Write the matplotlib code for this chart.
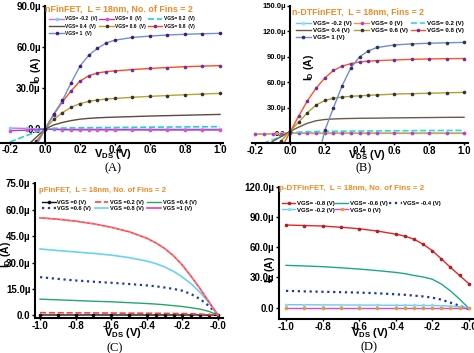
import numpy as np
import matplotlib
matplotlib.use('Agg')
import matplotlib.pyplot as plt

plt.rcParams['font.family'] = ['Liberation Sans', 'DejaVu Sans']
plt.rcParams['font.weight'] = 'bold'
plt.rcParams['mathtext.fontset'] = 'custom'
plt.rcParams['mathtext.bf'] = 'Liberation Sans:bold'
plt.rcParams['mathtext.rm'] = 'Liberation Sans:bold'

W, H = 474, 353
ORANGE = '#f08a24'

# ---- (A) nFinFET ----
xa = [-0.2, -0.1, -0.05, 0.0, 0.05, 0.1, 0.15, 0.2, 0.25, 0.3, 0.35, 0.4, 0.5, 0.6, 0.7, 0.8, 0.9, 1.0]
a_vgs1 = [-60, -30, -12, 0, 11, 21, 34, 46, 54, 59, 63, 65, 67, 68, 68.8, 69.3, 69.7, 70]
a_vgs08 = [-50, -25, -11, 0, 10.5, 20, 28, 35, 39, 41, 42, 42.5, 43.5, 44.3, 45, 45.6, 46, 46.4]
a_vgs06 = [-35, -18, -9, 0, 7, 12, 16, 18.6, 20.2, 21.3, 21.9, 22.4, 23.2, 23.9, 24.5, 25.1, 25.6, 26.1]
a_vgs04 = [-20, -12, -6, 0, 3, 4.8, 6.2, 7.2, 7.8, 8.2, 8.5, 8.7, 9.1, 9.5, 9.8, 10.1, 10.4, 10.7]
a_vgs02 = [-9.5, -4.5, -2.2, 0, 0.5, 0.7, 0.8, 0.9, 1.0, 1.05, 1.1, 1.15, 1.25, 1.35, 1.45, 1.55, 1.65, 1.75]
a_vgs0 = [-1.2, -0.8, -0.5, 0, -0.3, -0.5, -0.6, -0.6, -0.6, -0.6, -0.6, -0.65, -0.65, -0.7, -0.7, -0.7, -0.7, -0.7]
a_vgsm02 = [0.7, 0.4, 0.2, 0, -0.1, -0.15, -0.2, -0.2, -0.2, -0.2, -0.2, -0.2, -0.2, -0.2, -0.2, -0.2, -0.2, -0.2]

# ---- (B) n-DTFinFET ----
xb = [-0.2, -0.15, -0.1, -0.05, 0.0, 0.05, 0.1, 0.15, 0.2, 0.25, 0.3, 0.35, 0.4, 0.45, 0.5, 0.6, 0.7, 0.8, 0.9, 1.0]
b_vgs1 = [None] * 7 + [-40, 3, 30, 56, 77, 90, 97, 101, 104, 105.3, 106, 106.6, 107]
b_vgs08 = [-90, -65, -40, -18, 1, 20, 38, 53, 65, 74, 79, 82, 84, 84.8, 85.5, 86.3, 87, 87.5, 87.8, 88]
b_vgs06 = [-50, -35, -22, -9, 2, 13, 24, 33, 38.5, 41, 42.5, 43.3, 44, 44.5, 45, 46, 46.5, 47, 47.5, 48]
b_vgs04 = [-25, -17, -10, -4, 2, 7, 11.5, 14.5, 16, 16.6, 17, 17.2, 17.4, 17.5, 17.6, 17.9, 18.1, 18.3, 18.5, 18.6]
b_vgs02 = [-17, -12, -8, -4, 0, 1, 1.5, 1.8, 2, 2.1, 2.2, 2.3, 2.4, 2.45, 2.5, 2.7, 2.8, 2.9, 3.0, 3.1]
b_vgs0 = [-1.5, -1.3, -1.0, -0.6, 0, -0.3, -0.5, -0.5, -0.5, -0.5, -0.5, -0.5, -0.5, -0.5, -0.5, -0.5, -0.5, -0.5, -0.5, -0.5]
b_vgsm02 = [-1.0, -0.9, -0.7, -0.4, 0, 0.1, 0.1, 0.1, 0.1, 0.1, 0.1, 0.1, 0.1, 0.1, 0.1, 0.1, 0.1, 0.1, 0.1, 0.1]

# ---- (C) pFinFET ----
xc = [-1.0, -0.9, -0.8, -0.7, -0.6, -0.5, -0.4, -0.35, -0.3, -0.25, -0.2, -0.15, -0.1, -0.05, 0.0]
c_vgs1 = [55.4, 54.6, 53.5, 52, 50, 47.5, 43.8, 41.2, 38, 33.8, 28.5, 22, 15, 7.5, 0]
c_vgs08 = [37.7, 36.8, 36, 35.2, 34.2, 32.8, 30.8, 29.4, 27.5, 25, 21.7, 17.8, 13, 7, 0]
c_vgs06 = [21.7, 20.7, 19.8, 19.1, 18.5, 17.8, 17, 16.5, 15.8, 15, 14, 12, 9.2, 5.2, 0]
c_vgs04 = [9.2, 8.8, 8.4, 8.0, 7.7, 7.2, 6.7, 6.4, 6.0, 5.5, 5.0, 4.3, 3.5, 2.2, 0]
c_vgs02 = [1.5, 1.45, 1.4, 1.35, 1.3, 1.25, 1.2, 1.15, 1.1, 1.05, 1.0, 0.9, 0.7, 0.4, 0]
c_vgs0 = [0.2, 0.2, 0.2, 0.2, 0.2, 0.2, 0.2, 0.2, 0.2, 0.2, 0.2, 0.2, 0.2, 0.1, 0]

# ---- (D) p-DTFinFET ----
xd = [-1.0, -0.9, -0.8, -0.7, -0.6, -0.5, -0.4, -0.35, -0.3, -0.25, -0.2, -0.15, -0.1, -0.05, 0.0]
d_vgsm08 = [82, 81.5, 81, 79.8, 78.3, 76, 73, 71, 68, 63, 56.7, 48.5, 40, 32, 24]
d_vgsm06 = [42, 41.4, 40.7, 39.6, 38.3, 36.8, 35, 33.8, 32, 30.5, 28.3, 23.5, 16.7, 8.5, -0.5]
d_vgsm04 = [16.7, 16.2, 15.8, 15.4, 15, 14.3, 13.3, 12.8, 12, 11.2, 10, 8, 5, 2, -1.5]
d_vgsm02 = [3, 2.9, 2.8, 2.7, 2.6, 2.5, 2.4, 2.35, 2.3, 2.25, 2.2, 2.0, 1.6, 0.9, 0]
d_vgs0 = [-0.7, -0.7, -0.7, -0.7, -0.7, -0.7, -0.7, -0.7, -0.7, -0.7, -0.7, -0.7, -0.7, -0.7, -0.7]


def px_axes(fig, left, top, right, bottom):
    return fig.add_axes([left / W, 1 - bottom / H, (right - left) / W, (bottom - top) / H])


def style_axes(ax, xlim, ylim, xticks, yticks, ylabels, spine_at_zero, ysize):
    ax.set_xlim(*xlim)
    ax.set_ylim(*ylim)
    for s in ('top', 'right'):
        ax.spines[s].set_visible(False)
    ax.spines['left'].set_linewidth(1.5)
    ax.spines['bottom'].set_linewidth(1.5)
    if spine_at_zero:
        ax.spines['left'].set_position(('data', 0))
    ax.set_xticks(xticks)
    ax.set_xticklabels(['%.1f' % t for t in xticks], fontsize=7, fontweight='bold')
    ax.set_yticks(yticks)
    ax.set_yticklabels(ylabels, fontsize=ysize, fontweight='bold')
    ax.tick_params(axis='both', length=2, width=1, pad=1)
    ax.tick_params(axis='x', length=1.5, pad=0.5)
    ax.patch.set_alpha(0)


def curve(ax, x, y, color, label, ls='-', mk=None, mc=None, lw=1.0):
    x = np.array(x, dtype=float)
    y = np.array([np.nan if v is None else v for v in y], dtype=float)
    kw = {}
    if mk:
        kw = dict(marker=mk, markersize=1.6, markerfacecolor=mc, markeredgecolor=mc)
    ax.plot(x, y, color=color, linestyle=ls, lw=lw, label=label, **kw)


def legend(ax, x, y, fs, hl, cs, ls):
    # matplotlib fills legend columns first; reorder so entries read row by row
    handles, labs = ax.get_legend_handles_labels()
    n = len(handles)
    rows = (n + 2) // 3
    order = []
    for c in range(3):
        for r in range(rows):
            i = r * 3 + c
            if i < n:
                order.append(i)
    ax.legend([handles[i] for i in order], [labs[i] for i in order],
              loc='upper left', bbox_to_anchor=(x / W, 1 - y / H),
              bbox_transform=ax.figure.transFigure, ncol=3, frameon=False,
              handlelength=hl, handletextpad=0.3,
              columnspacing=cs, labelspacing=ls, borderpad=0,
              prop={'weight': 'bold', 'size': fs})


def labels(fig, yl, xl, cap):
    fig.text(yl[0] / W, 1 - yl[1] / H, r'$\mathbf{I_D}$ (A)', rotation=90,
             ha='center', va='center', fontsize=7.5, fontweight='bold')
    fig.text(xl[0] / W, 1 - xl[1] / H, r'$\mathbf{V_{DS}}$ (V)',
             ha='center', va='center', fontsize=8, fontweight='bold')
    fig.text(cap[0] / W, 1 - cap[1] / H, cap[2], ha='center', va='center',
             fontsize=9, family='Liberation Serif', fontweight='normal')


fig = plt.figure(figsize=(W / 100, H / 100), dpi=100)

# (A)
ax = px_axes(fig, 1.25, 6, 223.5, 142.7)
style_axes(ax, (-0.25, 1.02), (-10, 90), np.round(np.arange(-0.2, 1.01, 0.2), 1),
           [0, 30, 60, 90], ['0.0', '30.0µ', '60.0µ', '90.0µ'], True, 7)
curve(ax, xa, a_vgsm02, '#c870f0', 'VGS= -0.2  (V)', mk='o', mc='#66d8ff')
curve(ax, xa, a_vgs0, '#a040c0', 'VGS= 0  (V)', mk='o', mc='#ff40d0')
curve(ax, xa, a_vgs02, '#22cde0', 'VGS= 0.2  (V)', ls='--', lw=1.2)
curve(ax, xa, a_vgs04, '#5c4a3a', 'VGS= 0.4  (V)')
curve(ax, xa, a_vgs06, '#b8a428', 'VGS= 0.6  (V)', mk='o', mc='#333333')
curve(ax, xa, a_vgs08, '#ff4d1a', 'VGS= 0.8  (V)', mk='o', mc='#7a2a9a')
curve(ax, xa, a_vgs1, '#6a93d0', 'VGS= 1  (V)', mk='o', mc='#4a1a7a')
legend(ax, 47, 14, fs=3.5, hl=3.0, cs=0.3, ls=0.45)
fig.text(45 / W, 1 - 9 / H, 'nFinFET,  L = 18nm, No. of Fins = 2', color=ORANGE,
         fontsize=6.4, fontweight='bold', va='center')
labels(fig, (36, 70), (113, 154), (113, 168, '(A)'))

# (B)
ax = px_axes(fig, 251.7, 6, 467.5, 143.2)
style_axes(ax, (-0.22, 1.02), (-12, 150), np.round(np.arange(-0.2, 1.01, 0.2), 1),
           [0, 30, 60, 90, 120, 150],
           ['0.0', '30.0µ', '60.0µ', '90.0µ', '120.0µ', '150.0µ'], True, 5.5)
curve(ax, xb, b_vgsm02, '#66ccee', 'VGS= -0.2 (V)', mk='o', mc='#99ddff')
curve(ax, xb, b_vgs0, '#e0a030', 'VGS= 0 (V)', mk='o', mc='#cc33cc')
curve(ax, xb, b_vgs02, '#33d6e0', 'VGS= 0.2 (V)', ls='--', lw=1.2)
curve(ax, xb, b_vgs04, '#6b5a4a', 'VGS= 0.4 (V)')
curve(ax, xb, b_vgs06, '#b0a030', 'VGS= 0.6 (V)', mk='o', mc='#333333')
curve(ax, xb, b_vgs08, '#ff5522', 'VGS= 0.8 (V)', mk='o', mc='#7a2a9a')
curve(ax, xb, b_vgs1, '#6d8fc8', 'VGS= 1 (V)', mk='o', mc='#333355')
legend(ax, 293, 18, fs=4.4, hl=2.4, cs=0.5, ls=0.25)
fig.text(292 / W, 1 - 12 / H, 'n-DTFinFET,  L = 18nm, Fins = 2', color=ORANGE,
         fontsize=6.35, fontweight='bold', va='center')
labels(fig, (309, 67), (367, 155), (364, 168, '(B)'))

# (C)
ax = px_axes(fig, 34.7, 183.3, 222.5, 317.8)
style_axes(ax, (-1.03, 0.025), (-1.4, 75), np.round(np.arange(-1.0, 0.01, 0.2), 1),
           [0, 15, 30, 45, 60, 75],
           ['0.0', '15.0µ', '30.0µ', '45.0µ', '60.0µ', '75.0µ'], False, 7)
curve(ax, xc, c_vgs0, '#111111', 'VGS =0 (V)', mk='o', mc='#111111')
curve(ax, xc, c_vgs02, '#ff4040', 'VGS =0.2 (V)', ls='--', lw=1.2)
curve(ax, xc, c_vgs04, '#22a86a', 'VGS =0.4 (V)')
curve(ax, xc, c_vgs06, '#1f3fa0', 'VGS =0.6 (V)', ls=':', lw=1.6)
curve(ax, xc, c_vgs08, '#66d4ee', 'VGS =0.8 (V)', lw=1.2)
curve(ax, xc, c_vgs1, '#ff3399', 'VGS =1 (V)', lw=1.2)
ax.plot(xc, c_vgs1, color='#ff9900', ls='--', lw=0.9, dashes=(2, 2))
legend(ax, 39, 197, fs=4.1, hl=2.4, cs=0.6, ls=0.2)
fig.text(39 / W, 1 - 191 / H, 'pFinFET,  L = 18nm, No. of Fins = 2', color=ORANGE,
         fontsize=5.6, fontweight='bold', va='center')
labels(fig, (6, 254), (123, 333), (115, 348, '(C)'))

# (D)
ax = px_axes(fig, 278.7, 186.7, 473.8, 319.3)
style_axes(ax, (-1.04, 0.028), (-11.5, 120), np.round(np.arange(-1.0, 0.01, 0.2), 1),
           [0, 30, 60, 90, 120], ['0.0', '30.0µ', '60.0µ', '90.0µ', '120.0µ'], False, 7)
curve(ax, xd, d_vgsm08, '#ee2222', 'VGS= -0.8 (V)', mk='o', mc='#aa2222')
curve(ax, xd, d_vgsm06, '#1aa88a', 'VGS= -0.6 (V)')
curve(ax, xd, d_vgsm04, '#1a3a9a', 'VGS= -0.4 (V)', ls=':', lw=1.6)
curve(ax, xd, d_vgsm02, '#66ccee', 'VGS= -0.2 (V)', mk='o', mc='#88ddff')
curve(ax, xd, d_vgs0, '#dd44dd', 'VGS= 0 (V)', mk='o', mc='#ee9922')
legend(ax, 279, 198, fs=4.3, hl=2.2, cs=0.1, ls=0.2)
fig.text(279 / W, 1 - 189 / H, 'p-DTFinFET,  L = 18nm, No. of Fins = 2', color=ORANGE,
         fontsize=5.8, fontweight='bold', va='center')
labels(fig, (270, 269), (370, 333), (369, 347, '(D)'))

fig.savefig('out.png', dpi=100)
